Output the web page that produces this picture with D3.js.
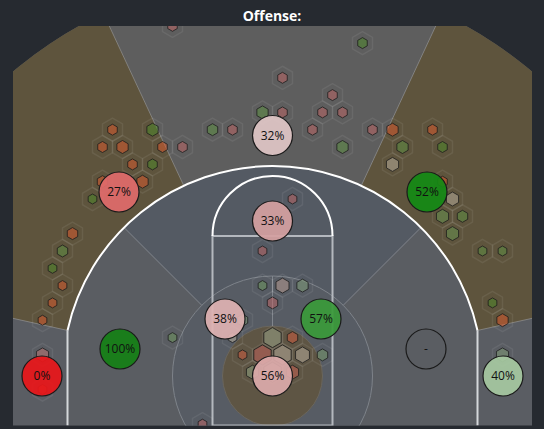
<!DOCTYPE html>
<html><head><meta charset="utf-8">
<script src="https://cdnjs.cloudflare.com/ajax/libs/d3/7.8.5/d3.min.js"></script>
<style>
html,body{margin:0;padding:0;background:#262a30;}
svg{display:block;}
</style></head><body>
<svg id="chart" width="544" height="429"></svg>
<script>
const title = "Offense:";

// Zone summary circles (ft from hoop: x right, y up)
const zoneLabels = ["0%","100%","27%","32%","52%","33%","38%","57%","56%","-","40%"];
const zoneX = [-23.05,-15.25,-15.35,0,15.45,0,-4.75,4.85,0,15.35,23.05];
const zoneY = [0,2.7,18.4,24.05,18.4,15.5,5.7,5.7,0,2.7,0];
const zoneFill = ["#e8171a","#168016","#e06a6a","#e0c6c6","#148a14","#d4a0a0","#deb2b2","#3a9a3a","#dcaaaa","none","#a6c8a0"];

// Hex bins (ft from hoop), relative FG value (0 bad .. 1 good), size (px radius)
const hexX = [-10,9,1,6,-1,1,5,7,-12,-6,-4,4,10,12,16,-16,-17,-15,-11,-9,7,13,17,-14,-12,12,-17,-13,17,-18,18,17,19,-20,18,-21,21,23,-22,-21,-22,-23,22,23,-23,-23,23,2,-1,-10,-7,-1,1,3,0,-3,-4,0,2,-3,-1,1,3,5,-2,2,0];
const hexY = [35.02,33.29,29.82,28.09,26.36,26.36,26.36,26.36,24.63,24.63,24.63,24.63,24.63,24.63,24.63,24.63,22.90,22.90,22.90,22.90,22.90,22.90,22.90,21.16,21.16,21.16,19.43,19.43,19.43,17.70,17.70,15.97,15.97,14.24,14.24,12.50,12.50,12.50,10.77,9.04,7.31,5.58,7.31,5.58,2.11,-1.35,2.11,17.70,12.50,3.84,-4.82,9.04,9.04,9.04,7.31,5.58,3.84,3.84,3.84,2.11,2.11,2.11,2.11,2.11,0.38,0.38,0.38];
const hexVal = [0.3,1,0.3,0.3,0.9,0.3,0.3,0.3,1,0.9,0.3,0.3,0.3,0,0,0,0,0,0,0.3,0.9,0.9,1,0,1,0.5,0,0,0,1,0.5,0.85,0.9,0,0.85,0.9,0.9,0.9,1,0,0,0,1,0,0.35,0,0.7,0.3,0.3,0.8,0.3,0.8,0.45,0.7,0.3,0.7,0.5,0.6,0.1,0.1,0.25,0.5,0.5,0.75,0.65,0.2,0.5];
const hexSize = [5.5,5.5,5.5,5.5,6.5,5.5,5.5,5.5,6.5,6,5.5,5.5,5.5,6.5,5.5,5.5,5.5,6.5,5.5,5.5,6.5,6.5,5.5,5.5,5.5,7,6,6.5,5.5,5,7,7,6,6,7,6,5,5,5,5,5,5,5,6.5,7,5,7,5,5,5,5,5,7.5,6.5,6,6,5,10,6,5,10,10,8,6,7,7,10];

const svg = d3.select("#chart");
const xS = d3.scaleLinear().domain([-25.95, 25.95]).range([13, 532]);
const yS = d3.scaleLinear().domain([-4.95, 35]).range([425.5, 26]);
const k = xS(1) - xS(0);
const rad = d => d * Math.PI / 180;
const P = (deg, r) => [xS(r * Math.cos(rad(deg))), yS(r * Math.sin(rad(deg)))];

svg.append("rect").attr("width", 544).attr("height", 429).attr("fill", "#262a30");

const defs = svg.append("defs");
defs.append("clipPath").attr("id", "rectClip").append("rect")
  .attr("x", xS(-25.95)).attr("y", yS(35))
  .attr("width", xS(25.95) - xS(-25.95)).attr("height", yS(-4.95) - yS(35));
defs.append("clipPath").attr("id", "circClip").append("circle")
  .attr("cx", xS(0)).attr("cy", yS(0)).attr("r", 40 * k);

const court = svg.append("g").attr("clip-path", "url(#rectClip)")
  .append("g").attr("clip-path", "url(#circClip)");

court.append("rect").attr("x", 0).attr("y", 0).attr("width", 544).attr("height", 429).attr("fill", "#5a5d63");

const R3 = 21, C3 = 20.5;
const jy = Math.sqrt(R3 * R3 - C3 * C3);
const cornerAng = Math.atan2(jy, C3) * 180 / Math.PI;

function wedge(a0, a1, r) {
  const pts = [[xS(0), yS(0)]];
  const n = 30;
  for (let i = 0; i <= n; i++) pts.push(P(a0 + (a1 - a0) * i / n, r));
  return d3.line()(pts) + "Z";
}
court.append("path").attr("d", wedge(cornerAng, 65, 70)).attr("fill", "#5e543d");
court.append("path").attr("d", wedge(65, 115, 70)).attr("fill", "#5e5e5e");
court.append("path").attr("d", wedge(115, 180 - cornerAng, 70)).attr("fill", "#5e543d");

const r3px = R3 * k;
court.append("path")
  .attr("d", `M${xS(-C3)},${yS(-4.95)}L${xS(-C3)},${yS(jy)}A${r3px},${r3px} 0 0 1 ${xS(C3)},${yS(jy)}L${xS(C3)},${yS(-4.95)}Z`)
  .attr("fill", "#5a5d62");
{
  const a = P(135, R3), b = P(45, R3);
  court.append("path")
    .attr("d", `M${xS(0)},${yS(0)}L${a[0]},${a[1]}A${r3px},${r3px} 0 0 1 ${b[0]},${b[1]}Z`)
    .attr("fill", "#545a63");
}
court.append("circle").attr("cx", xS(0)).attr("cy", yS(0)).attr("r", 10 * k)
  .attr("fill", "#575c64").attr("stroke", "#7e838a").attr("stroke-width", 1);
court.append("circle").attr("cx", xS(0)).attr("cy", yS(0)).attr("r", 5 * k)
  .attr("fill", "#5e5544").attr("stroke", "#6a665e").attr("stroke-width", 1);

const sep = court.append("g").attr("fill", "none").attr("stroke-width", 1);
[65, 115, cornerAng, 180 - cornerAng].forEach(a => {
  const p0 = P(a, R3), p1 = P(a, 70);
  sep.append("line").attr("x1", p0[0]).attr("y1", p0[1]).attr("x2", p1[0]).attr("y2", p1[1]).attr("stroke", "#9c9c9c").attr("stroke-opacity", 0.6);
});
[45, 135].forEach(a => {
  const p0 = P(a, 10), p1 = P(a, R3);
  sep.append("line").attr("x1", p0[0]).attr("y1", p0[1]).attr("x2", p1[0]).attr("y2", p1[1]).attr("stroke", "#80858c");
});
sep.append("line").attr("x1", xS(0)).attr("y1", yS(5)).attr("x2", xS(0)).attr("y2", yS(10)).attr("stroke", "#80858c");

court.append("rect").attr("x", xS(-6)).attr("y", yS(14)).attr("width", xS(6) - xS(-6)).attr("height", yS(-4.95) - yS(14))
  .attr("fill", "none").attr("stroke", "#b4b8be").attr("stroke-width", 2);
court.append("path").attr("d", `M${xS(-6)},${yS(14)}A${6 * k},${6 * k} 0 0 1 ${xS(6)},${yS(14)}`)
  .attr("fill", "none").attr("stroke", "#ffffff").attr("stroke-width", 2);
court.append("line").attr("x1", xS(-C3)).attr("y1", yS(-4.95)).attr("x2", xS(-C3)).attr("y2", yS(jy))
  .attr("stroke", "#d4d7da").attr("stroke-width", 2);
court.append("line").attr("x1", xS(C3)).attr("y1", yS(-4.95)).attr("x2", xS(C3)).attr("y2", yS(jy))
  .attr("stroke", "#d4d7da").attr("stroke-width", 2);
court.append("path").attr("d", `M${xS(-C3)},${yS(jy)}A${r3px},${r3px} 0 0 1 ${xS(C3)},${yS(jy)}`)
  .attr("fill", "none").attr("stroke", "#ffffff").attr("stroke-width", 2);

const hexColor = d3.scaleLinear().domain([0, 0.3, 0.5, 0.7, 1])
  .range(["#dc5a2c", "#c06666", "#bab0a0", "#82a078", "#4c8a28"]);
function hexPath(r) {
  const pts = d3.range(6).map(i => [r * Math.sin(i * Math.PI / 3), -r * Math.cos(i * Math.PI / 3)]);
  return d3.line()(pts) + "Z";
}
const cellR = 2 / Math.sqrt(3) * k;
const hexData = hexX.map((x, i) => ({x, y: hexY[i], v: hexVal[i], s: hexSize[i]}));
const hg = court.append("g").selectAll("g").data(hexData).join("g")
  .attr("transform", d => `translate(${xS(d.x)},${yS(d.y)})`);
hg.append("path").attr("d", hexPath(cellR)).attr("fill", "none")
  .attr("stroke", "#ffffff").attr("stroke-opacity", 0.07).attr("stroke-width", 1.5);
hg.append("path").attr("d", d => hexPath(d.s)).attr("fill", d => hexColor(d.v)).attr("fill-opacity", 0.52)
  .attr("stroke", "#1a1a1a").attr("stroke-opacity", 0.75).attr("stroke-width", 1);

const zd = zoneLabels.map((t, i) => ({t, x: zoneX[i], y: zoneY[i], f: zoneFill[i]}));
const zg = svg.append("g").selectAll("g").data(zd).join("g")
  .attr("transform", d => `translate(${xS(d.x)},${yS(d.y)})`);
zg.append("circle").attr("r", 2 * k)
  .attr("fill", d => d.f).attr("fill-opacity", 0.93)
  .attr("stroke", "#1a1a1a").attr("stroke-width", 1.2);
zg.append("text").text(d => d.t).attr("text-anchor", "middle").attr("dy", "0.36em")
  .attr("font-family", "'Open Sans', sans-serif").attr("font-size", 12).attr("fill", "#111");

svg.append("text").text(title).attr("x", 272).attr("y", 20.5).attr("text-anchor", "middle")
  .attr("font-family", "'Open Sans', sans-serif").attr("font-weight", 700).attr("font-size", 14).attr("fill", "#ffffff");
</script>
</body></html>
